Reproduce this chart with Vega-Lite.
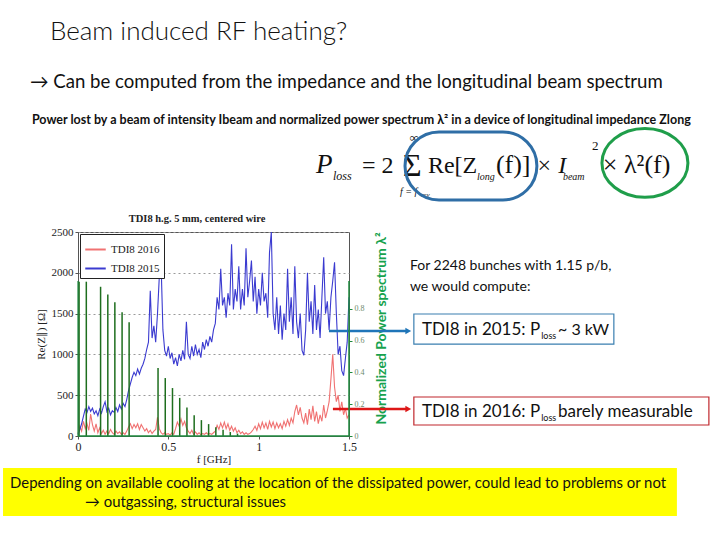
{
  "$schema": "https://vega.github.io/schema/vega-lite/v6.json",
  "width": 271,
  "height": 204,
  "autosize": "none",
  "padding": {"left": 78, "top": 232, "right": 371, "bottom": 104},
  "background": "white",
  "config": {"view": {"stroke": "#555", "strokeWidth": 1}},
  "datasets": {
    "impedance": [
      {"f":0.00,"TDI8 2015":20,"TDI8 2016":30},{"f":0.01,"TDI8 2015":80,"TDI8 2016":120},{"f":0.02,"TDI8 2015":150,"TDI8 2016":60},{"f":0.03,"TDI8 2015":240,"TDI8 2016":180},{"f":0.04,"TDI8 2015":330,"TDI8 2016":90},
      {"f":0.05,"TDI8 2015":290,"TDI8 2016":150},{"f":0.06,"TDI8 2015":360,"TDI8 2016":70},{"f":0.07,"TDI8 2015":300,"TDI8 2016":270},{"f":0.08,"TDI8 2015":340,"TDI8 2016":140},{"f":0.09,"TDI8 2015":270,"TDI8 2016":60},
      {"f":0.10,"TDI8 2015":310,"TDI8 2016":150},{"f":0.11,"TDI8 2015":250,"TDI8 2016":40},{"f":0.12,"TDI8 2015":330,"TDI8 2016":100},{"f":0.13,"TDI8 2015":280,"TDI8 2016":30},{"f":0.14,"TDI8 2015":360,"TDI8 2016":70},
      {"f":0.15,"TDI8 2015":420,"TDI8 2016":20},{"f":0.16,"TDI8 2015":300,"TDI8 2016":60},{"f":0.17,"TDI8 2015":340,"TDI8 2016":30},{"f":0.18,"TDI8 2015":260,"TDI8 2016":80},{"f":0.19,"TDI8 2015":310,"TDI8 2016":40},
      {"f":0.20,"TDI8 2015":290,"TDI8 2016":20},{"f":0.21,"TDI8 2015":350,"TDI8 2016":60},{"f":0.22,"TDI8 2015":300,"TDI8 2016":30},{"f":0.23,"TDI8 2015":380,"TDI8 2016":50},{"f":0.24,"TDI8 2015":330,"TDI8 2016":20},
      {"f":0.25,"TDI8 2015":400,"TDI8 2016":40},{"f":0.26,"TDI8 2015":360,"TDI8 2016":20},{"f":0.27,"TDI8 2015":450,"TDI8 2016":60},{"f":0.28,"TDI8 2015":560,"TDI8 2016":110},{"f":0.29,"TDI8 2015":640,"TDI8 2016":150},
      {"f":0.30,"TDI8 2015":720,"TDI8 2016":90},{"f":0.31,"TDI8 2015":780,"TDI8 2016":140},{"f":0.32,"TDI8 2015":740,"TDI8 2016":100},{"f":0.33,"TDI8 2015":820,"TDI8 2016":150},{"f":0.34,"TDI8 2015":760,"TDI8 2016":80},
      {"f":0.35,"TDI8 2015":830,"TDI8 2016":140},{"f":0.36,"TDI8 2015":880,"TDI8 2016":100},{"f":0.37,"TDI8 2015":950,"TDI8 2016":60},{"f":0.38,"TDI8 2015":1060,"TDI8 2016":90},{"f":0.39,"TDI8 2015":1150,"TDI8 2016":40},
      {"f":0.40,"TDI8 2015":1780,"TDI8 2016":70},{"f":0.41,"TDI8 2015":1200,"TDI8 2016":30},{"f":0.42,"TDI8 2015":1350,"TDI8 2016":60},{"f":0.43,"TDI8 2015":1150,"TDI8 2016":80},{"f":0.44,"TDI8 2015":1500,"TDI8 2016":230},
      {"f":0.45,"TDI8 2015":1950,"TDI8 2016":90},{"f":0.46,"TDI8 2015":2100,"TDI8 2016":40},{"f":0.47,"TDI8 2015":1300,"TDI8 2016":20},{"f":0.48,"TDI8 2015":1050,"TDI8 2016":40},{"f":0.49,"TDI8 2015":980,"TDI8 2016":20},
      {"f":0.50,"TDI8 2015":1100,"TDI8 2016":30},{"f":0.51,"TDI8 2015":950,"TDI8 2016":10},{"f":0.52,"TDI8 2015":1020,"TDI8 2016":40},{"f":0.53,"TDI8 2015":880,"TDI8 2016":20},{"f":0.54,"TDI8 2015":960,"TDI8 2016":90},
      {"f":0.55,"TDI8 2015":860,"TDI8 2016":170},{"f":0.56,"TDI8 2015":1000,"TDI8 2016":120},{"f":0.57,"TDI8 2015":920,"TDI8 2016":210},{"f":0.58,"TDI8 2015":1050,"TDI8 2016":130},{"f":0.59,"TDI8 2015":940,"TDI8 2016":180},
      {"f":0.60,"TDI8 2015":1400,"TDI8 2016":100},{"f":0.61,"TDI8 2015":1000,"TDI8 2016":60},{"f":0.62,"TDI8 2015":950,"TDI8 2016":30},{"f":0.63,"TDI8 2015":1100,"TDI8 2016":70},{"f":0.64,"TDI8 2015":980,"TDI8 2016":20},
      {"f":0.65,"TDI8 2015":1120,"TDI8 2016":50},{"f":0.66,"TDI8 2015":1000,"TDI8 2016":20},{"f":0.67,"TDI8 2015":1060,"TDI8 2016":40},{"f":0.68,"TDI8 2015":960,"TDI8 2016":15},{"f":0.69,"TDI8 2015":1150,"TDI8 2016":30},
      {"f":0.70,"TDI8 2015":1060,"TDI8 2016":20},{"f":0.71,"TDI8 2015":1180,"TDI8 2016":40},{"f":0.72,"TDI8 2015":1100,"TDI8 2016":20},{"f":0.73,"TDI8 2015":1220,"TDI8 2016":30},{"f":0.74,"TDI8 2015":1150,"TDI8 2016":20},
      {"f":0.75,"TDI8 2015":1300,"TDI8 2016":40},{"f":0.76,"TDI8 2015":1380,"TDI8 2016":60},{"f":0.77,"TDI8 2015":1700,"TDI8 2016":130},{"f":0.78,"TDI8 2015":1550,"TDI8 2016":80},{"f":0.79,"TDI8 2015":2050,"TDI8 2016":160},
      {"f":0.80,"TDI8 2015":1600,"TDI8 2016":100},{"f":0.81,"TDI8 2015":1700,"TDI8 2016":170},{"f":0.82,"TDI8 2015":1450,"TDI8 2016":90},{"f":0.83,"TDI8 2015":1750,"TDI8 2016":150},{"f":0.84,"TDI8 2015":1600,"TDI8 2016":70},
      {"f":0.85,"TDI8 2015":2350,"TDI8 2016":120},{"f":0.86,"TDI8 2015":1550,"TDI8 2016":60},{"f":0.87,"TDI8 2015":1800,"TDI8 2016":100},{"f":0.88,"TDI8 2015":1650,"TDI8 2016":40},{"f":0.89,"TDI8 2015":2080,"TDI8 2016":70},
      {"f":0.90,"TDI8 2015":1550,"TDI8 2016":30},{"f":0.91,"TDI8 2015":1800,"TDI8 2016":50},{"f":0.92,"TDI8 2015":1600,"TDI8 2016":20},{"f":0.93,"TDI8 2015":2300,"TDI8 2016":40},{"f":0.94,"TDI8 2015":1700,"TDI8 2016":20},
      {"f":0.95,"TDI8 2015":1900,"TDI8 2016":30},{"f":0.96,"TDI8 2015":2150,"TDI8 2016":50},{"f":0.97,"TDI8 2015":1650,"TDI8 2016":80},{"f":0.98,"TDI8 2015":1950,"TDI8 2016":120},{"f":0.99,"TDI8 2015":1500,"TDI8 2016":70},
      {"f":1.00,"TDI8 2015":1800,"TDI8 2016":150},{"f":1.01,"TDI8 2015":1600,"TDI8 2016":90},{"f":1.02,"TDI8 2015":2000,"TDI8 2016":170},{"f":1.03,"TDI8 2015":1650,"TDI8 2016":100},{"f":1.04,"TDI8 2015":1750,"TDI8 2016":160},
      {"f":1.05,"TDI8 2015":1450,"TDI8 2016":80},{"f":1.06,"TDI8 2015":2250,"TDI8 2016":180},{"f":1.07,"TDI8 2015":2500,"TDI8 2016":110},{"f":1.08,"TDI8 2015":1500,"TDI8 2016":170},{"f":1.09,"TDI8 2015":1300,"TDI8 2016":90},
      {"f":1.10,"TDI8 2015":1700,"TDI8 2016":160},{"f":1.11,"TDI8 2015":1250,"TDI8 2016":100},{"f":1.12,"TDI8 2015":1600,"TDI8 2016":150},{"f":1.13,"TDI8 2015":1180,"TDI8 2016":90},{"f":1.14,"TDI8 2015":1500,"TDI8 2016":180},
      {"f":1.15,"TDI8 2015":1300,"TDI8 2016":120},{"f":1.16,"TDI8 2015":2050,"TDI8 2016":200},{"f":1.17,"TDI8 2015":1400,"TDI8 2016":130},{"f":1.18,"TDI8 2015":1700,"TDI8 2016":220},{"f":1.19,"TDI8 2015":1250,"TDI8 2016":160},
      {"f":1.20,"TDI8 2015":2080,"TDI8 2016":300},{"f":1.21,"TDI8 2015":1400,"TDI8 2016":380},{"f":1.22,"TDI8 2015":1200,"TDI8 2016":260},{"f":1.23,"TDI8 2015":1500,"TDI8 2016":350},{"f":1.24,"TDI8 2015":1050,"TDI8 2016":220},
      {"f":1.25,"TDI8 2015":990,"TDI8 2016":160},{"f":1.26,"TDI8 2015":1300,"TDI8 2016":280},{"f":1.27,"TDI8 2015":2000,"TDI8 2016":140},{"f":1.28,"TDI8 2015":1400,"TDI8 2016":330},{"f":1.29,"TDI8 2015":1650,"TDI8 2016":200},
      {"f":1.30,"TDI8 2015":1250,"TDI8 2016":370},{"f":1.31,"TDI8 2015":1850,"TDI8 2016":180},{"f":1.32,"TDI8 2015":1300,"TDI8 2016":300},{"f":1.33,"TDI8 2015":1550,"TDI8 2016":150},{"f":1.34,"TDI8 2015":1200,"TDI8 2016":260},
      {"f":1.35,"TDI8 2015":1700,"TDI8 2016":180},{"f":1.36,"TDI8 2015":2190,"TDI8 2016":380},{"f":1.37,"TDI8 2015":1500,"TDI8 2016":220},{"f":1.38,"TDI8 2015":1650,"TDI8 2016":310},{"f":1.39,"TDI8 2015":1300,"TDI8 2016":420},
      {"f":1.40,"TDI8 2015":1700,"TDI8 2016":700},{"f":1.41,"TDI8 2015":1900,"TDI8 2016":1000},{"f":1.42,"TDI8 2015":2130,"TDI8 2016":600},{"f":1.43,"TDI8 2015":1500,"TDI8 2016":420},{"f":1.44,"TDI8 2015":1000,"TDI8 2016":500},
      {"f":1.45,"TDI8 2015":1100,"TDI8 2016":300},{"f":1.46,"TDI8 2015":800,"TDI8 2016":420},{"f":1.47,"TDI8 2015":740,"TDI8 2016":260},{"f":1.48,"TDI8 2015":950,"TDI8 2016":340},{"f":1.49,"TDI8 2015":1150,"TDI8 2016":220},
      {"f":1.50,"TDI8 2015":1700,"TDI8 2016":260}
    ],
    "spectrum": [
      {"f":0.006,"lam":0.972},{"f":0.046,"lam":0.972},{"f":0.125,"lam":0.940},{"f":0.165,"lam":0.892},{"f":0.204,"lam":0.842},
      {"f":0.244,"lam":0.779},{"f":0.283,"lam":0.716},{"f":0.443,"lam":0.428},{"f":0.483,"lam":0.365},{"f":0.523,"lam":0.302},
      {"f":0.563,"lam":0.240},{"f":0.603,"lam":0.180},{"f":0.643,"lam":0.130},{"f":0.683,"lam":0.100},{"f":0.723,"lam":0.075},
      {"f":0.763,"lam":0.055},{"f":0.803,"lam":0.040},{"f":0.843,"lam":0.025},{"f":0.883,"lam":0.015}
    ]
  },
  "layer": [
    {
      "layer": [
        {
          "data": {"name": "impedance"},
          "transform": [{"fold": ["TDI8 2016", "TDI8 2015"], "as": ["series", "z"]}],
          "mark": {"type": "line", "strokeWidth": 1.1, "interpolate": "linear"},
          "encoding": {
            "x": {"field": "f", "type": "quantitative", "scale": {"domain": [0, 1.5], "nice": false},
                  "axis": {"orient": "bottom", "title": "f [GHz]", "values": [0, 0.5, 1, 1.5], "labelExpr": "'' + datum.value",
                           "labelFont": "Liberation Serif", "labelFontSize": 12, "labelColor": "#222", "labelFlush": false,
                           "titleFont": "Liberation Serif", "titleFontSize": 11, "titleFontWeight": "normal", "titleColor": "#222", "titlePadding": 1,
                           "grid": false, "domainColor": "#555", "tickColor": "#555", "tickSize": 3}},
            "y": {"field": "z", "type": "quantitative", "scale": {"domain": [0, 2500], "nice": false},
                  "axis": {"orient": "left", "title": "Re(Z∥) [Ω]", "values": [0, 500, 1000, 1500, 2000, 2500], "format": "d",
                           "labelFont": "Liberation Serif", "labelFontSize": 11, "labelColor": "#222", "labelPadding": 2,
                           "titleFont": "Liberation Serif", "titleFontSize": 11, "titleFontWeight": "normal", "titleColor": "#222", "titlePadding": 5,
                           "grid": true, "gridDash": [2, 3], "gridColor": "#9a9a9a", "domainColor": "#555", "tickColor": "#555", "tickSize": 3}},
            "color": {"field": "series", "type": "nominal",
                      "scale": {"domain": ["TDI8 2016", "TDI8 2015"], "range": ["#f07272", "#3b3bd0"]},
                      "legend": {"orient": "top-left", "title": null, "offset": 2, "strokeColor": "#222", "fillColor": "white", "padding": 4,
                                 "symbolType": "stroke", "symbolSize": 420, "symbolStrokeWidth": 2, "labelFont": "Liberation Serif",
                                 "labelFontSize": 11, "labelColor": "#222", "rowPadding": 2}},
            "order": {"field": "f", "type": "quantitative"}
          }
        },
        {
          "data": {"values": [{}]},
          "mark": {"type": "text", "text": "TDI8 h.g. 5 mm, centered wire", "font": "Liberation Serif", "fontSize": 10.5, "fontWeight": "bold", "color": "#222", "align": "center", "baseline": "middle"},
          "encoding": {"x": {"datum": 0.659}, "y": {"datum": 2659}}
        },
        {
          "data": {"values": [{}]},
          "mark": {"type": "text", "text": "Beam induced RF heating?", "font": "Lato", "fontSize": 26, "fontWeight": 300, "color": "#111", "align": "left", "baseline": "middle"},
          "encoding": {"x": {"datum": -0.155}, "y": {"datum": 4951}}
        },
        {
          "data": {"values": [{}]},
          "mark": {"type": "text", "text": "→ Can be computed from the impedance and the longitudinal beam spectrum", "font": "Lato", "fontSize": 18.6, "color": "#111", "align": "left", "baseline": "middle"},
          "encoding": {"x": {"datum": -0.266}, "y": {"datum": 4338}}
        },
        {
          "data": {"values": [{}]},
          "mark": {"type": "text", "text": "Power lost by a beam of intensity Ibeam and normalized power spectrum λ² in a device of longitudinal impedance Zlong", "font": "Lato", "fontSize": 12.5, "fontWeight": "bold", "color": "#111", "align": "left", "baseline": "middle"},
          "encoding": {"x": {"datum": -0.255}, "y": {"datum": 3873}}
        },
        {
          "data": {"values": [{}]},
          "mark": {"type": "text", "text": "P", "font": "Liberation Serif", "fontSize": 27, "fontStyle": "italic", "color": "#111", "align": "left", "baseline": "alphabetic"},
          "encoding": {"x": {"datum": 1.317}, "y": {"datum": 3223}}
        },
        {
          "data": {"values": [{}]},
          "mark": {"type": "text", "text": "loss", "font": "Liberation Serif", "fontSize": 12, "fontStyle": "italic", "color": "#111", "align": "left", "baseline": "alphabetic"},
          "encoding": {"x": {"datum": 1.411}, "y": {"datum": 3137}}
        },
        {
          "data": {"values": [{}]},
          "mark": {"type": "text", "text": "= 2", "font": "Liberation Serif", "fontSize": 24, "color": "#111", "align": "left", "baseline": "alphabetic"},
          "encoding": {"x": {"datum": 1.572}, "y": {"datum": 3223}}
        },
        {
          "data": {"values": [{}]},
          "mark": {"type": "text", "text": "Σ", "font": "Liberation Serif", "fontSize": 32, "color": "#111", "align": "left", "baseline": "alphabetic"},
          "encoding": {"x": {"datum": 1.799}, "y": {"datum": 3186}}
        },
        {
          "data": {"values": [{}]},
          "mark": {"type": "text", "text": "∞", "font": "Liberation Serif", "fontSize": 13, "color": "#111", "align": "center", "baseline": "alphabetic"},
          "encoding": {"x": {"datum": 1.86}, "y": {"datum": 3603}}
        },
        {
          "data": {"values": [{}]},
          "mark": {"type": "text", "text": "f = f", "font": "Liberation Serif", "fontSize": 10, "fontStyle": "italic", "color": "#111", "align": "left", "baseline": "alphabetic"},
          "encoding": {"x": {"datum": 1.782}, "y": {"datum": 2953}}
        },
        {
          "data": {"values": [{}]},
          "mark": {"type": "text", "text": "rev", "font": "Liberation Serif", "fontSize": 7, "fontStyle": "italic", "color": "#111", "align": "left", "baseline": "alphabetic"},
          "encoding": {"x": {"datum": 1.898}, "y": {"datum": 2929}}
        },
        {
          "data": {"values": [{}]},
          "mark": {"type": "text", "text": "Re[Z", "font": "Liberation Serif", "fontSize": 24, "color": "#111", "align": "left", "baseline": "alphabetic"},
          "encoding": {"x": {"datum": 1.937}, "y": {"datum": 3223}}
        },
        {
          "data": {"values": [{}]},
          "mark": {"type": "text", "text": "long", "font": "Liberation Serif", "fontSize": 10, "fontStyle": "italic", "color": "#111", "align": "left", "baseline": "alphabetic"},
          "encoding": {"x": {"datum": 2.208}, "y": {"datum": 3137}}
        },
        {
          "data": {"values": [{}]},
          "mark": {"type": "text", "text": "(f)]", "font": "Liberation Serif", "fontSize": 26, "color": "#111", "align": "left", "baseline": "alphabetic"},
          "encoding": {"x": {"datum": 2.313}, "y": {"datum": 3223}}
        },
        {
          "data": {"values": [{}]},
          "mark": {"type": "text", "text": "× I", "font": "Liberation Serif", "fontSize": 24, "fontStyle": "italic", "color": "#111", "align": "left", "baseline": "alphabetic"},
          "encoding": {"x": {"datum": 2.535}, "y": {"datum": 3223}}
        },
        {
          "data": {"values": [{}]},
          "mark": {"type": "text", "text": "beam", "font": "Liberation Serif", "fontSize": 10, "fontStyle": "italic", "color": "#111", "align": "left", "baseline": "alphabetic"},
          "encoding": {"x": {"datum": 2.684}, "y": {"datum": 3137}}
        },
        {
          "data": {"values": [{}]},
          "mark": {"type": "text", "text": "2", "font": "Liberation Serif", "fontSize": 13, "color": "#111", "align": "left", "baseline": "alphabetic"},
          "encoding": {"x": {"datum": 2.845}, "y": {"datum": 3505}}
        },
        {
          "data": {"values": [{}]},
          "mark": {"type": "text", "text": "× λ²(f)", "font": "Liberation Serif", "fontSize": 26, "color": "#111", "align": "left", "baseline": "alphabetic"},
          "encoding": {"x": {"datum": 2.905}, "y": {"datum": 3223}}
        },
        {
          "data": {"values": [{}]},
          "mark": {"type": "rect", "filled": false, "stroke": "#2f6ea6", "strokeWidth": 3, "cornerRadius": 34},
          "encoding": {"x": {"datum": 1.810}, "x2": {"datum": 2.540}, "y": {"datum": 3726}, "y2": {"datum": 2892}}
        },
        {
          "data": {"values": [{}]},
          "mark": {"type": "point", "shape": "M -1 0 C -1 -0.4418 -0.5523 -0.8 0 -0.8 C 0.5523 -0.8 1 -0.4418 1 0 C 1 0.4418 0.5523 0.8 0 0.8 C -0.5523 0.8 -1 0.4418 -1 0 Z", "filled": false, "size": 7396, "stroke": "#1f9e4a", "strokeWidth": 3, "opacity": 1},
          "encoding": {"x": {"datum": 3.138}, "y": {"datum": 3346}}
        },
        {
          "data": {"values": [{}]},
          "mark": {"type": "text", "text": "For 2248 bunches with 1.15 p/b,", "font": "Lato", "fontSize": 14, "color": "#111", "align": "left", "baseline": "middle"},
          "encoding": {"x": {"datum": 1.837}, "y": {"datum": 2083}}
        },
        {
          "data": {"values": [{}]},
          "mark": {"type": "text", "text": "we would compute:", "font": "Lato", "fontSize": 14, "color": "#111", "align": "left", "baseline": "middle"},
          "encoding": {"x": {"datum": 1.837}, "y": {"datum": 1826}}
        },
        {
          "data": {"values": [{}]},
          "mark": {"type": "rect", "fill": "white", "stroke": "#3a7fb0", "strokeWidth": 1.2},
          "encoding": {"x": {"datum": 1.859}, "x2": {"datum": 2.966}, "y": {"datum": 1495}, "y2": {"datum": 1127}}
        },
        {
          "data": {"values": [{}]},
          "mark": {"type": "rect", "fill": "white", "stroke": "#c0272d", "strokeWidth": 1.2},
          "encoding": {"x": {"datum": 1.859}, "x2": {"datum": 3.492}, "y": {"datum": 478}, "y2": {"datum": 135}}
        },
        {
          "data": {"values": [{}]},
          "mark": {"type": "text", "text": "TDI8 in 2015: P", "font": "Lato", "fontSize": 17, "color": "#111", "align": "right", "baseline": "alphabetic"},
          "encoding": {"x": {"datum": 2.558}, "y": {"datum": 1238}}
        },
        {
          "data": {"values": [{}]},
          "mark": {"type": "text", "text": "loss", "font": "Lato", "fontSize": 9, "color": "#111", "align": "left", "baseline": "alphabetic"},
          "encoding": {"x": {"datum": 2.564}, "y": {"datum": 1189}}
        },
        {
          "data": {"values": [{}]},
          "mark": {"type": "text", "text": "~ 3 kW", "font": "Lato", "fontSize": 16, "color": "#111", "align": "left", "baseline": "alphabetic"},
          "encoding": {"x": {"datum": 2.657}, "y": {"datum": 1238}}
        },
        {
          "data": {"values": [{}]},
          "mark": {"type": "text", "text": "TDI8 in 2016: P", "font": "Lato", "fontSize": 17, "color": "#111", "align": "right", "baseline": "alphabetic"},
          "encoding": {"x": {"datum": 2.558}, "y": {"datum": 233}}
        },
        {
          "data": {"values": [{}]},
          "mark": {"type": "text", "text": "loss", "font": "Lato", "fontSize": 9, "color": "#111", "align": "left", "baseline": "alphabetic"},
          "encoding": {"x": {"datum": 2.564}, "y": {"datum": 184}}
        },
        {
          "data": {"values": [{}]},
          "mark": {"type": "text", "text": "barely measurable", "font": "Lato", "fontSize": 17, "color": "#111", "align": "left", "baseline": "alphabetic"},
          "encoding": {"x": {"datum": 2.657}, "y": {"datum": 233}}
        },
        {
          "data": {"values": [{}]},
          "mark": {"type": "rule", "stroke": "#1f75b8", "strokeWidth": 2.5},
          "encoding": {"x": {"datum": 1.389}, "x2": {"datum": 1.82}, "y": {"datum": 1287}}
        },
        {
          "data": {"values": [{}]},
          "mark": {"type": "point", "shape": "triangle-right", "filled": true, "size": 45, "color": "#1f75b8", "opacity": 1},
          "encoding": {"x": {"datum": 1.828}, "y": {"datum": 1287}}
        },
        {
          "data": {"values": [{}]},
          "mark": {"type": "rule", "stroke": "#dd1717", "strokeWidth": 2.5},
          "encoding": {"x": {"datum": 1.411}, "x2": {"datum": 1.82}, "y": {"datum": 331}}
        },
        {
          "data": {"values": [{}]},
          "mark": {"type": "point", "shape": "triangle-right", "filled": true, "size": 45, "color": "#dd1717", "opacity": 1},
          "encoding": {"x": {"datum": 1.828}, "y": {"datum": 331}}
        },
        {
          "data": {"values": [{}]},
          "mark": {"type": "rect", "fill": "#ffff00"},
          "encoding": {"x": {"datum": -0.415}, "x2": {"datum": 3.315}, "y": {"datum": -392}, "y2": {"datum": -980}}
        },
        {
          "data": {"values": [{}]},
          "mark": {"type": "text", "text": "Depending on available cooling at the location of the dissipated power, could lead to problems or not", "font": "Lato", "fontSize": 14.9, "color": "#111", "align": "left", "baseline": "alphabetic"},
          "encoding": {"x": {"datum": -0.376}, "y": {"datum": -637}}
        },
        {
          "data": {"values": [{}]},
          "mark": {"type": "text", "text": "→ outgassing, structural issues", "font": "Lato", "fontSize": 14.9, "color": "#111", "align": "left", "baseline": "alphabetic"},
          "encoding": {"x": {"datum": 0.039}, "y": {"datum": -870}}
        }
      ]
    },
    {
      "layer": [
        {
          "data": {"name": "spectrum"},
          "mark": {"type": "rule", "stroke": "#1e6e1e", "strokeWidth": 1.5},
          "encoding": {
            "x": {"field": "f", "type": "quantitative"},
            "y": {"field": "lam", "type": "quantitative", "scale": {"domain": [0, 1.285], "nice": false},
                  "axis": {"orient": "right", "title": "Normalized Power spectrum λ²", "values": [0, 0.2, 0.4, 0.6, 0.8],
                           "labelExpr": "'' + datum.value", "labelFont": "Liberation Serif", "labelFontSize": 8, "labelColor": "#6d8a6d",
                           "labelPadding": 2, "domain": false, "grid": false, "tickColor": "#1e8a3e", "tickSize": 3,
                           "titleFont": "Lato", "titleFontSize": 14, "titleFontWeight": "bold", "titleColor": "#17a24e",
                           "titleAngle": 270, "titleX": 32, "titleY": 96, "titleBaseline": "middle", "titleAlign": "center"}},
            "y2": {"datum": 0}
          }
        },
        {
          "data": {"values": [{}]},
          "mark": {"type": "rule", "stroke": "#1e8a3e", "strokeWidth": 1.5},
          "encoding": {"x": {"datum": 1.5}, "y": {"datum": 0}, "y2": {"datum": 0.976}}
        },
        {
          "data": {"values": [{}]},
          "mark": {"type": "rule", "stroke": "#1e8a3e", "strokeWidth": 1.2},
          "encoding": {"x": {"datum": 0}, "y": {"datum": 0}, "y2": {"datum": 0.976}}
        },
        {
          "data": {"values": [{}]},
          "mark": {"type": "rule", "stroke": "#1e8a3e", "strokeWidth": 1.5},
          "encoding": {"x": {"datum": 0}, "x2": {"datum": 1.5}, "y": {"datum": 0}}
        }
      ]
    }
  ],
  "resolve": {"scale": {"y": "independent"}, "axis": {"y": "independent"}}
}
